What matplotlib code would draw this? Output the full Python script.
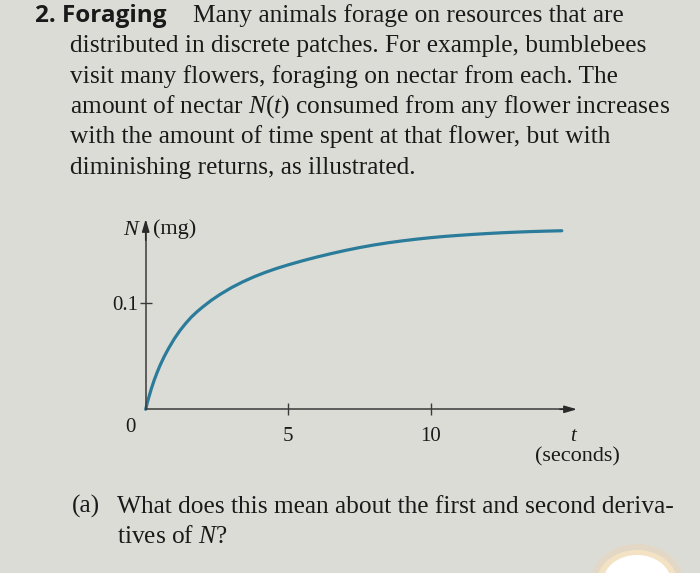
import matplotlib
matplotlib.use("Agg")
import matplotlib.pyplot as plt
from matplotlib.patches import Ellipse

# values: time (s) and nectar consumed (mg)
t_sec = [0, 0.05, 0.1, 0.2, 0.3, 0.4, 0.5, 0.65, 0.8, 1.0, 1.2, 1.4, 1.6, 1.8, 2.0,
         2.3, 2.6, 3.0, 3.4, 3.8, 4.2, 4.6, 5.0, 5.5, 6.0, 6.5, 7.0, 7.5, 8.0, 8.5,
         9.0, 9.5, 10.0, 10.5, 11.0, 11.5, 12.0, 12.5, 13.0, 13.5, 14.0, 14.6]
nectar_mg = [0, 0.0055, 0.0105, 0.0195, 0.0275, 0.0345, 0.041, 0.0495, 0.057, 0.066,
             0.0738, 0.0805, 0.0865, 0.0915, 0.096, 0.1022, 0.1076, 0.114, 0.1195,
             0.1243, 0.1285, 0.1322, 0.1355, 0.1393, 0.1428, 0.146, 0.149, 0.1517,
             0.1541, 0.1562, 0.158, 0.1596, 0.161, 0.1622, 0.1632, 0.1641, 0.1649,
             0.1656, 0.1662, 0.1667, 0.1671, 0.1675]
x_ticks = [5, 10]
y_ticks = [0.1]

W, H = 700, 573
bg = "#dcdcd7"
ink = "#1a1a1a"
curve_col = "#2b7c9b"
serif = ["Liberation Serif", "DejaVu Serif"]

plt.rcParams["mathtext.fontset"] = "custom"
plt.rcParams["mathtext.rm"] = "Liberation Serif"
plt.rcParams["mathtext.it"] = "Liberation Serif:italic"

fig = plt.figure(figsize=(W / 100, H / 100), dpi=100, facecolor=bg)


def px(x, y):
    # pixel (from top-left) -> figure fraction
    return x / W, 1 - y / H


# header paragraph
body = 18.3
fig.text(*px(35, 22), "2. Foraging", fontsize=17.5, fontweight="bold",
         family=["Open Sans", "DejaVu Sans"], color=ink, va="baseline")
fig.text(*px(193, 22), "Many animals forage on resources that are",
         fontsize=body, family=serif, color=ink, va="baseline")
para = [
    "distributed in discrete patches. For example, bumblebees",
    "visit many flowers, foraging on nectar from each. The",
    r"amount of nectar $N(t)$ consumed from any flower increases",
    "with the amount of time spent at that flower, but with",
    "diminishing returns, as illustrated.",
]
for i, line in enumerate(para):
    fig.text(*px(70, 52 + 30.5 * i), line, fontsize=body, family=serif,
             color=ink, va="baseline")

# question below the graph
fig.text(*px(72, 513), "(a)", fontsize=body, family=serif, color=ink, va="baseline")
fig.text(*px(117, 513), "What does this mean about the first and second deriva-",
         fontsize=body, family=serif, color=ink, va="baseline")
fig.text(*px(117, 543), r"tives of $N$?", fontsize=body, family=serif,
         color=ink, va="baseline")

# graph axes placed so t=0,N=0 sits at pixel (145.7, 409.3)
x0, y0, sx, sy = 145.7, 409.3, 28.5, 1066.0
xlim = (-0.5, 16.0)
ylim = (-0.01, 0.2)
left = x0 + xlim[0] * sx
right = x0 + xlim[1] * sx
bottom = y0 - ylim[0] * sy
top = y0 - ylim[1] * sy
ax = fig.add_axes([left / W, 1 - bottom / H, (right - left) / W, (bottom - top) / H])
ax.set_facecolor("none")
ax.set_xlim(*xlim)
ax.set_ylim(*ylim)

ax.plot(t_sec, nectar_mg, color=curve_col, lw=2.3, solid_capstyle="round",
        solid_joinstyle="round")

for s in ["top", "right"]:
    ax.spines[s].set_visible(False)
ax.spines["left"].set_position(("data", 0))
ax.spines["bottom"].set_position(("data", 0))
x_end = (577 - x0) / sx
y_end = (y0 - 219) / sy
ax.spines["bottom"].set_bounds(0, x_end - 0.2)
ax.spines["left"].set_bounds(0, y_end - 0.004)
for s in ["left", "bottom"]:
    ax.spines[s].set_color("#3a3a3a")
    ax.spines[s].set_linewidth(1.1)

arrow = dict(arrowstyle="-|>,head_length=0.75,head_width=0.22", color="#2a2a2a",
             lw=1.1, shrinkA=0, shrinkB=0)
ax.annotate("", xy=(x_end, 0), xytext=(x_end - 0.6, 0), arrowprops=arrow)
ax.annotate("", xy=(0, y_end), xytext=(0, y_end - 0.02), arrowprops=arrow)

ax.set_xticks(x_ticks)
ax.set_xticklabels([str(v) for v in x_ticks], family=serif, fontsize=15, color=ink)
ax.set_yticks(y_ticks)
ax.set_yticklabels(["0.1"], family=serif, fontsize=15, color=ink)
ax.tick_params(direction="inout", length=9, width=1.0, color="#3a3a3a")
ax.tick_params(axis="x", pad=8)
ax.tick_params(axis="y", pad=1)

ax.text(-0.55, -0.017, "0", family=serif, fontsize=15, color=ink,
        ha="center", va="center")
ax.text(-0.15, y_end, r"$N$", fontsize=16, color=ink, ha="right", va="top")
ax.text(0.25, y_end, "(mg)", family=serif, fontsize=16, color=ink, ha="left", va="top")
ax.text(x_end - 0.1, -0.03, r"$t$", fontsize=15, color=ink, ha="center", va="baseline")
ax.text(x_end, -0.049, "(seconds)", family=serif, fontsize=16, color=ink,
        ha="center", va="baseline")

# glare spot from the photo, bottom right
for rx, ry, c, a in [(46, 38, "#f0cf9c", 0.3), (40, 32, "#fbe8c4", 0.7), (34, 27, "#ffffff", 1.0)]:
    fig.patches.append(Ellipse(px(637, 582), 2 * rx / W, 2 * ry / H,
                               transform=fig.transFigure, color=c, alpha=a, lw=0))

fig.savefig("out.png", dpi=100, facecolor=bg)
